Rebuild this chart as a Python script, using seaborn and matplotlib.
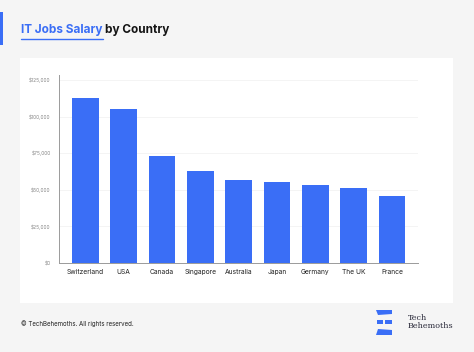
import matplotlib
matplotlib.use("Agg")
import matplotlib.pyplot as plt
import seaborn as sns
import pandas as pd
from matplotlib.patches import Rectangle, Polygon
from matplotlib.ticker import FuncFormatter

countries = ["Switzerland", "USA", "Canada", "Singapore", "Australia",
             "Japan", "Germany", "The UK", "France"]
salaries = [113000, 105000, 73000, 63000, 57000, 55000, 53000, 51000, 46000]
y_ticks = [0, 25000, 50000, 75000, 100000, 125000]

BLUE = "#3a6ef6"
W, H = 474, 352

sns.set_theme(style="white")
plt.rcParams["font.family"] = ["Inter", "DejaVu Sans"]

fig = plt.figure(figsize=(W / 100, H / 100), dpi=100)
fig.patch.set_facecolor("#f5f5f5")

def fx(px):
    return px / W

def fy(py):
    return 1 - py / H

# white card
fig.patches.append(Rectangle((fx(20), fy(303)), fx(433), (303 - 58) / H,
                             transform=fig.transFigure, facecolor="white",
                             edgecolor="none", zorder=-5))
# left blue accent bar
fig.patches.append(Rectangle((0, fy(45)), fx(3), 33 / H,
                             transform=fig.transFigure, facecolor=BLUE,
                             edgecolor="none", zorder=1))

ax = fig.add_axes([fx(59), fy(263), fx(418 - 59), (263 - 74.7) / H])
ax.set_zorder(2)
ax.set_facecolor("white")

df = pd.DataFrame({"country": countries, "salary": salaries})
sns.barplot(data=df, x="country", y="salary", color=BLUE, width=0.70,
            saturation=1, ax=ax, zorder=3, linewidth=0)

ax.set_xlim(-0.69, 8.68)
ax.set_ylim(0, 128600)
ax.set_yticks(y_ticks)
ax.yaxis.set_major_formatter(FuncFormatter(lambda v, p: f"${v:,.0f}"))
ax.set_xlabel("")
ax.set_ylabel("")
for s in ["top", "right"]:
    ax.spines[s].set_visible(False)
for s in ["left", "bottom"]:
    ax.spines[s].set_color("#9a9a9a")
    ax.spines[s].set_linewidth(0.7)
ax.grid(axis="y", color="#f3f3f3", linewidth=0.6, zorder=0)
ax.tick_params(axis="y", labelsize=3.5, labelcolor="#888888", length=0, pad=6)
ax.tick_params(axis="x", labelsize=4.8, labelcolor="#222222", length=0, pad=4)

# title
t1 = fig.text(fx(21), fy(29.5), "IT Jobs Salary", color=BLUE, fontsize=8.5,
              fontweight="bold", va="center", ha="left")
fig.canvas.draw()
bb = t1.get_window_extent()
x_end = bb.x1 / (W)
fig.text(x_end + fx(2.5), fy(29.5), "by Country", color="#151515", fontsize=8.5,
         fontweight="bold", va="center", ha="left")
fig.lines.append(plt.Line2D([fx(21), x_end], [fy(38.5), fy(38.5)],
                            transform=fig.transFigure, color=BLUE, linewidth=1.0))

# footer
fig.text(fx(21), fy(324), "\u00a9 TechBehemoths. All rights reserved.",
         fontsize=4.45, color="#222222", va="center", ha="left")

# logo
fig.patches.append(Polygon([[fx(376), fy(310)], [fx(392), fy(310)], [fx(392), fy(314)], [fx(378), fy(315)]],
                           closed=True, transform=fig.transFigure, facecolor=BLUE, edgecolor="none"))
fig.patches.append(Rectangle((fx(377), fy(324)), fx(6), 4 / H, transform=fig.transFigure,
                             facecolor=BLUE, edgecolor="none"))
fig.patches.append(Rectangle((fx(385), fy(324)), fx(7), 4 / H, transform=fig.transFigure,
                             facecolor=BLUE, edgecolor="none"))
fig.patches.append(Polygon([[fx(378), fy(329)], [fx(392), fy(330)], [fx(392), fy(335)], [fx(376), fy(335)]],
                           closed=True, transform=fig.transFigure, facecolor=BLUE, edgecolor="none"))
fig.text(fx(408), fy(322), "Tech\nBehemoths", fontsize=5.8, color="#2a2a3a",
         family=["DejaVu Serif"], va="center", ha="left", linespacing=1.05)

fig.savefig("out.png", dpi=100, facecolor=fig.get_facecolor())
